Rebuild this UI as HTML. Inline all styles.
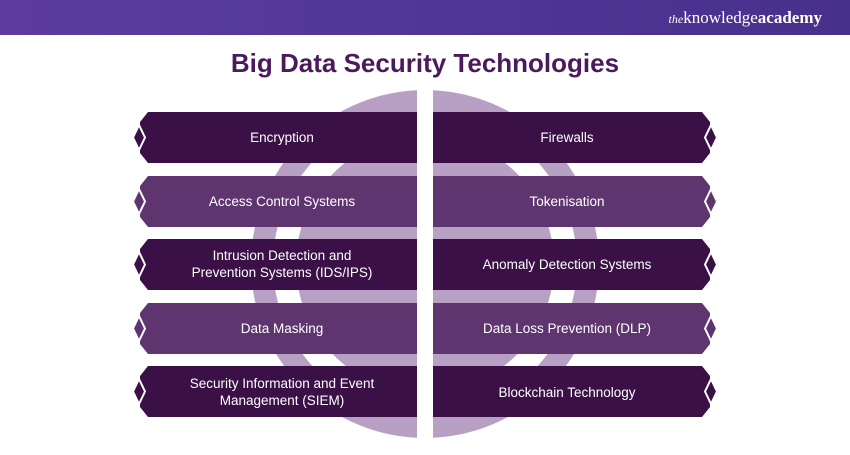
<!DOCTYPE html>
<html><head><meta charset="utf-8"><style>
body{margin:0;width:850px;height:450px;background:#fff;overflow:hidden;font-family:"Liberation Sans",sans-serif}
</style></head><body>
<svg width="850" height="450" xmlns="http://www.w3.org/2000/svg">
<defs><linearGradient id="g" x1="0" x2="1"><stop offset="0" stop-color="#5c3d9f"/><stop offset="1" stop-color="#47308c"/></linearGradient></defs>
<rect x="0" y="0" width="850" height="35" fill="url(#g)"/>
<text x="822" y="23" text-anchor="end" font-family="Liberation Serif,serif" font-size="17" fill="#fff"><tspan font-style="italic" font-size="12">the</tspan>knowledge<tspan font-weight="bold">academy</tspan></text>
<text x="425" y="72" text-anchor="middle" font-size="26" font-weight="bold" fill="#4a1a5c">Big Data Security Technologies</text>
<circle cx="425" cy="264" r="174" fill="#b8a0c4"/>
<circle cx="425" cy="264" r="152" fill="#fff"/>
<circle cx="425" cy="264" r="129" fill="#b8a0c4"/>
<rect x="417" y="88" width="16" height="360" fill="#fff"/>
<g id="rows"></g>
<g font-size="13.5" fill="#fff" text-anchor="middle">
<!-- rows -->
<g fill="#3a1046">
<polygon points="148,112 417,112 417,163 148,163 140,153 140,122"/>
<polygon points="148,239 417,239 417,290 148,290 140,280 140,249"/>
<polygon points="148,366 417,366 417,417 148,417 140,407 140,376"/>
<polygon points="702,112 433,112 433,163 702,163 710,153 710,122"/>
<polygon points="702,239 433,239 433,290 702,290 710,280 710,249"/>
<polygon points="702,366 433,366 433,417 702,417 710,407 710,376"/>
<polygon points="133,137.5 139,125 145,137.5 139,150" stroke="#fff" stroke-width="2"/>
<polygon points="133,264.5 139,252 145,264.5 139,277" stroke="#fff" stroke-width="2"/>
<polygon points="133,391.5 139,379 145,391.5 139,404" stroke="#fff" stroke-width="2"/>
<polygon points="717,137.5 711,125 705,137.5 711,150" stroke="#fff" stroke-width="2"/>
<polygon points="717,264.5 711,252 705,264.5 711,277" stroke="#fff" stroke-width="2"/>
<polygon points="717,391.5 711,379 705,391.5 711,404" stroke="#fff" stroke-width="2"/>
</g>
<g fill="#5f356f">
<polygon points="148,176 417,176 417,227 148,227 140,217 140,186"/>
<polygon points="148,303 417,303 417,354 148,354 140,344 140,313"/>
<polygon points="702,176 433,176 433,227 702,227 710,217 710,186"/>
<polygon points="702,303 433,303 433,354 702,354 710,344 710,313"/>
<polygon points="133,201.5 139,189 145,201.5 139,214" stroke="#fff" stroke-width="2"/>
<polygon points="133,328.5 139,316 145,328.5 139,341" stroke="#fff" stroke-width="2"/>
<polygon points="717,201.5 711,189 705,201.5 711,214" stroke="#fff" stroke-width="2"/>
<polygon points="717,328.5 711,316 705,328.5 711,341" stroke="#fff" stroke-width="2"/>
</g>
<text x="282" y="142">Encryption</text>
<text x="282" y="206">Access Control Systems</text>
<text x="282" y="260">Intrusion Detection and</text>
<text x="282" y="277">Prevention Systems (IDS/IPS)</text>
<text x="282" y="333">Data Masking</text>
<text x="282" y="388">Security Information and Event</text>
<text x="282" y="405">Management (SIEM)</text>
<text x="567" y="142">Firewalls</text>
<text x="567" y="206">Tokenisation</text>
<text x="567" y="269">Anomaly Detection Systems</text>
<text x="567" y="333">Data Loss Prevention (DLP)</text>
<text x="567" y="397">Blockchain Technology</text>
</g>
</svg>
</body></html>
